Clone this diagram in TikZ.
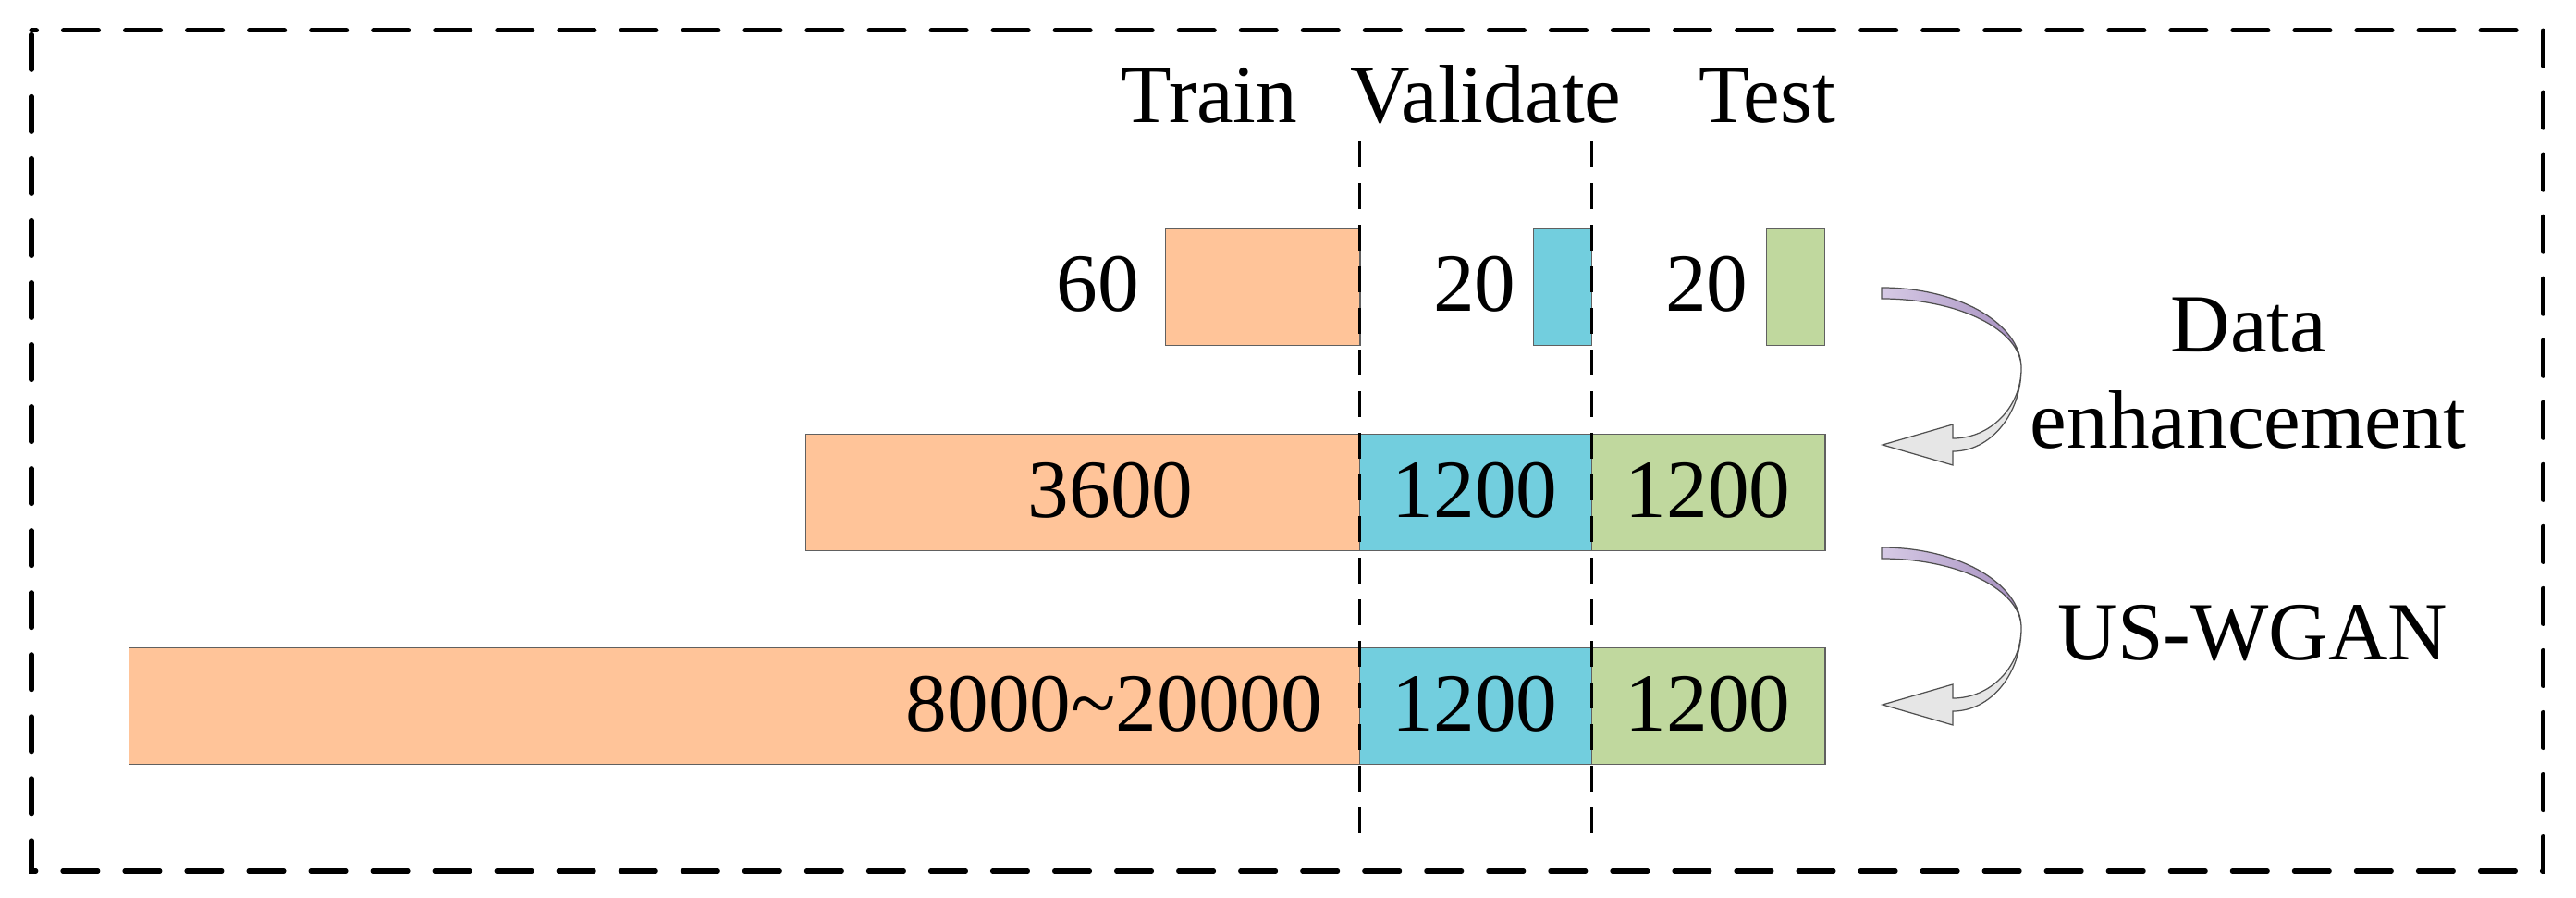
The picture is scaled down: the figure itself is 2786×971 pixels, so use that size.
\documentclass[tikz,border=0pt]{standalone}
\usepackage{fontspec}
\setmainfont{Liberation Serif}
\definecolor{trainc}{HTML}{FFC499}
\definecolor{valc}{HTML}{72CEDE}
\definecolor{testc}{HTML}{C0D89E}
\definecolor{boxline}{HTML}{606060}
\definecolor{purpL}{HTML}{D6CAE5}
\definecolor{purpD}{HTML}{A68FC0}
\definecolor{headc}{HTML}{E6E6E6}
\definecolor{arrline}{HTML}{505050}
\begin{document}
\begin{tikzpicture}[x=0.01cm,y=-0.01cm,
  box/.style={draw=boxline, line width=0.4pt, rectangle, inner sep=0pt, anchor=north west, minimum height=1.255cm},
  lbl/.style={inner sep=0pt, font=\fontsize{25.4}{29.6}\selectfont},
  splitline/.style={line width=0.03cm, dash pattern=on 0.28cm off 0.17cm},
  frame/.style={line width=0.05cm, line cap=round, dash pattern=on 0.38cm off 0.29cm, dash phase=0.325cm},
  curvarrow/.pic={
    \path[draw=arrline, line width=0.35pt, left color=purpL, right color=purpD]
      (0,0) .. controls (83.4,0) and (151,39) .. (151,87)
            .. controls (151,45.6) and (83.4,12) .. (0,12) -- cycle;
    \path[draw=arrline, line width=0.35pt, fill=headc]
      (151,87) .. controls (151,136.7) and (117.9,177) .. (77,177)
      -- (77,192) -- (1,170) -- (77,148) -- (77,163)
      .. controls (117.9,163) and (151,129) .. (151,87) -- cycle;
  }]
\useasboundingbox (0,0) rectangle (2786,971);

% outer frame
\draw[frame] (34,33) -- (2750,33) -- (2750,942) -- (34,942) -- cycle;

% headers
\node[lbl, anchor=base] (htrain) at (1308,133) {Train};
\node[lbl, anchor=base] (hval) at (1607,133) {Validate};
\node[lbl, anchor=base] (htest) at (1911,133) {Test};

% row 1
\node[box, fill=trainc, minimum width=2.10cm] (o1) at (1260,247) {};
\node[box, fill=valc, minimum width=0.63cm] (b1) at (1658,247) {};
\node[box, fill=testc, minimum width=0.63cm] (g1) at (1910,247) {};
\node[lbl, anchor=base east] (l60) at (1233,337) {60};
\node[lbl, anchor=base east] (l20a) at (1640,337) {20};
\node[lbl, anchor=base east] (l20b) at (1891,337) {20};

% row 2
\node[box, fill=trainc, minimum width=5.99cm] (o2) at (871,469) {};
\node[box, fill=valc, minimum width=2.51cm] (b2) at (1470,469) {};
\node[box, fill=testc, minimum width=2.52cm] (g2) at (1721,469) {};
\node[lbl, anchor=base] (l3600) at (1201,560) {3600};
\node[lbl, anchor=base] (l1200a) at (1595,560) {1200};
\node[lbl, anchor=base] (l1200b) at (1847,560) {1200};

% row 3
\node[box, fill=trainc, minimum width=13.31cm] (o3) at (139,700) {};
\node[box, fill=valc, minimum width=2.51cm] (b3) at (1470,700) {};
\node[box, fill=testc, minimum width=2.52cm] (g3) at (1721,700) {};
\node[lbl, anchor=base west] (lbig) at (979,791) {8000\textasciitilde20000};
\node[lbl, anchor=base] (l1200c) at (1595,791) {1200};
\node[lbl, anchor=base] (l1200d) at (1847,791) {1200};

% split lines
\coordinate (s1t) at (1470,153);
\coordinate (s1b) at (1470,914);
\coordinate (s2t) at (1721,153);
\coordinate (s2b) at (1721,914);
\draw[splitline] (s1t) -- (s1b);
\draw[splitline] (s2t) -- (s2b);

% curved arrows
\pic at (2035,311) {curvarrow};
\pic at (2035,592) {curvarrow};

% right labels
\node[lbl, anchor=base west] (enh) at (2195,485) {enhancement};
\node[lbl, anchor=base] (data) at (2432,381) {Data};
\node[lbl, anchor=base west] (gan) at (2225,714) {US-WGAN};
\end{tikzpicture}
\end{document}
